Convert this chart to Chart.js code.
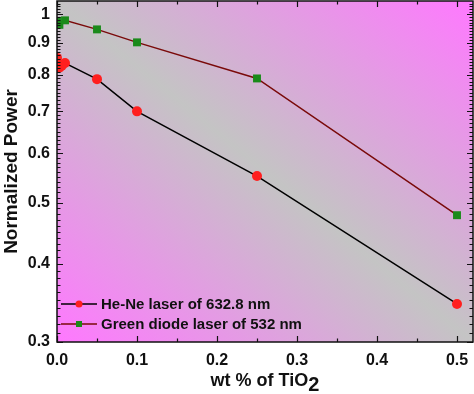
<!DOCTYPE html>
<html>
<head>
<meta charset="utf-8">
<script src="https://cdn.jsdelivr.net/npm/chart.js@4"></script>
<style>
  html, body { margin: 0; padding: 0; background: #fff; }
  #wrap { width: 474px; height: 394px; }
</style>
</head>
<body>
<div id="wrap"><canvas id="chart"></canvas></div>
<script>
// data
const HENE_X = [0, 0.003, 0.006, 0.01, 0.05, 0.1, 0.25, 0.5];
const HENE_Y = [0.852, 0.822, 0.828, 0.836, 0.788, 0.700, 0.552, 0.345];
const GREEN_X = [0, 0.003, 0.01, 0.05, 0.1, 0.25, 0.5];
const GREEN_Y = [0.976, 0.962, 0.978, 0.946, 0.902, 0.790, 0.478];
const X_TICKS = [0, 0.1, 0.2, 0.3, 0.4, 0.5];
const Y_TICKS = [0.3, 0.4, 0.5, 0.6, 0.7, 0.8, 0.9, 1];
const SERIES_LABELS = ["He-Ne laser of 632.8 nm", "Green diode laser of 532 nm"];

const FONT = "'Liberation Sans', Arial, sans-serif";

function toPoints(xs, ys) {
    return xs.map((x, i) => ({ x: x, y: ys[i] }));
}

// gradient background (magenta corners, grey diagonal)
const bgPlugin = {
    id: "bg",
    beforeDraw(chart) {
        const a = chart.chartArea;
        const ctx = chart.ctx;
        const w = a.right - a.left, h = a.bottom - a.top;
        const cx = (a.left + a.right) / 2, cy = (a.top + a.bottom) / 2;
        const t = w * h / (w * w + h * h);
        const g = ctx.createLinearGradient(cx - h * t, cy + w * t, cx + h * t, cy - w * t);
        g.addColorStop(0, "#ff78ff");
        g.addColorStop(0.5, "#c4c4c4");
        g.addColorStop(1, "#ff78ff");
        ctx.save();
        ctx.fillStyle = g;
        ctx.fillRect(a.left, a.top, w, h);
        ctx.restore();
    }
};

// frame, inward ticks, legend and x title
const framePlugin = {
    id: "frame",
    afterDraw(chart) {
        const a = chart.chartArea;
        const ctx = chart.ctx;
        const xs = chart.scales.x, ys = chart.scales.y;
        ctx.save();
        ctx.strokeStyle = "#111";
        ctx.lineWidth = 1.2;

        ctx.beginPath();
        // x ticks
        for (let i = 0; i <= 10; i++) {
            const v = i * 0.05;
            const px = Math.round(xs.getPixelForValue(v)) + 0.5;
            const len = (i % 2 === 0) ? 6 : 3.5;
            ctx.moveTo(px, a.bottom); ctx.lineTo(px, a.bottom - len);
            ctx.moveTo(px, a.top); ctx.lineTo(px, a.top + len);
        }
        // y ticks
        for (let i = 30; i <= 104; i++) {
            const v = i / 100;
            const py = Math.round(ys.getPixelForValue(v)) + 0.5;
            const len = (i % 10 === 0) ? 6 : 3.5;
            ctx.moveTo(a.left, py); ctx.lineTo(a.left + len, py);
            ctx.moveTo(a.right, py); ctx.lineTo(a.right - len, py);
        }
        ctx.stroke();

        ctx.lineWidth = 1.5;
        ctx.strokeRect(a.left, a.top, a.right - a.left, a.bottom - a.top);

        // legend inside the plot
        const ds = chart.data.datasets;
        const rows = [304, 324];
        ctx.font = "bold 15px " + FONT;
        ctx.textBaseline = "middle";
        ds.forEach((d, i) => {
            const y = rows[i];
            ctx.strokeStyle = d.borderColor;
            ctx.lineWidth = 1.5;
            ctx.beginPath();
            ctx.moveTo(a.left + 4, y); ctx.lineTo(a.left + 40, y);
            ctx.stroke();
            ctx.fillStyle = d.pointBackgroundColor;
            if (d.pointStyle === "rect") {
                ctx.fillRect(a.left + 22 - 3, y - 3, 6, 6);
            } else {
                ctx.beginPath();
                ctx.arc(a.left + 22, y, 3.5, 0, Math.PI * 2);
                ctx.fill();
            }
            ctx.fillStyle = "#111";
            ctx.fillText(d.label, a.left + 44, y + 1);
        });

        // x axis title with lowered "2"
        ctx.font = "bold 18px " + FONT;
        ctx.textBaseline = "alphabetic";
        const main = "wt % of TiO";
        const mw = ctx.measureText(main).width;
        ctx.font = "bold 20px " + FONT;
        const sw = ctx.measureText("2").width;
        const x0 = (a.left + a.right) / 2 - (mw + sw) / 2;
        ctx.font = "bold 18px " + FONT;
        ctx.fillText(main, x0, 386);
        ctx.font = "bold 20px " + FONT;
        ctx.fillText("2", x0 + mw, 391);
        ctx.restore();
    }
};

new Chart(document.getElementById("chart"), {
    type: "line",
    data: {
        datasets: [
            {
                label: SERIES_LABELS[0],
                data: toPoints(HENE_X, HENE_Y),
                borderColor: "#000000",
                borderWidth: 1.5,
                pointStyle: "circle",
                pointRadius: 5,
                pointBackgroundColor: "#ff1f1f",
                pointBorderWidth: 0,
                tension: 0
            },
            {
                label: SERIES_LABELS[1],
                data: toPoints(GREEN_X, GREEN_Y),
                borderColor: "#7a0a0a",
                borderWidth: 1.5,
                pointStyle: "rect",
                pointRadius: 5.6,
                pointBackgroundColor: "#1a8a1a",
                pointBorderWidth: 0,
                tension: 0
            }
        ]
    },
    options: {
        responsive: true,
        maintainAspectRatio: false,
        animation: false,
        layout: { autoPadding: false, padding: { top: 1, right: 1, left: 0, bottom: 0 } },
        plugins: {
            legend: { display: false },
            tooltip: { enabled: false }
        },
        scales: {
            x: {
                type: "linear",
                min: 0,
                max: 0.52,
                grid: { display: false, drawTicks: false, tickLength: 0 },
                border: { display: false },
                afterBuildTicks: (s) => { s.ticks = X_TICKS.map(v => ({ value: v })); },
                afterFit: (s) => { s.height = 52; s.paddingLeft = 0; s.paddingRight = 0; },
                ticks: {
                    color: "#111",
                    padding: 9,
                    maxRotation: 0,
                    font: { family: FONT, size: 16, weight: "bold" },
                    callback: (v) => v.toFixed(1)
                }
            },
            y: {
                type: "logarithmic",
                min: 0.3,
                max: 1.05,
                grid: { display: false, drawTicks: false, tickLength: 0 },
                border: { display: false },
                afterBuildTicks: (s) => { s.ticks = Y_TICKS.map(v => ({ value: v })); },
                afterFit: (s) => { s.width = 57; s.paddingTop = 0; s.paddingBottom = 0; },
                title: {
                    display: true,
                    text: "Normalized Power",
                    color: "#111",
                    padding: { top: 0, bottom: 0 },
                    font: { family: FONT, size: 19, weight: "bold" }
                },
                ticks: {
                    color: "#111",
                    padding: 7,
                    font: { family: FONT, size: 16, weight: "bold" },
                    callback: (v) => String(v)
                }
            }
        }
    },
    plugins: [bgPlugin, framePlugin]
});
</script>
</body>
</html>
